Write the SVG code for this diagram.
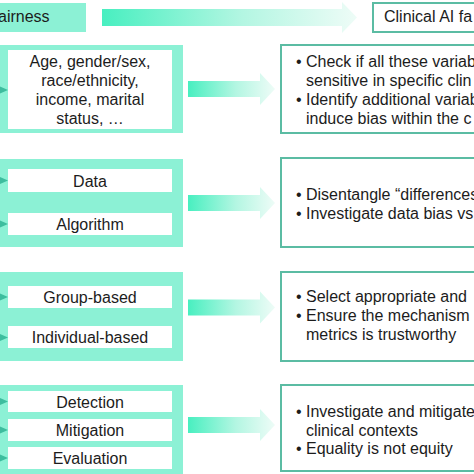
<svg xmlns="http://www.w3.org/2000/svg" width="474" height="474" viewBox="0 0 474 474">
<defs>
<linearGradient id="g" x1="0" y1="0" x2="1" y2="0">
<stop offset="0" stop-color="#48efc0"/>
<stop offset="0.55" stop-color="#b3f6e2"/>
<stop offset="1" stop-color="#eefcf7"/>
</linearGradient>
<style>
.t{font-family:"Liberation Sans",Arial,sans-serif;font-size:16px;fill:#1c1c1c}
.c{text-anchor:middle}
.outer{fill:#8cf1d5}
.inner{fill:#ffffff}
.rb{fill:#ffffff;stroke:#5bbca3;stroke-width:2}
.sa{fill:#3dbd9e}
.ba{fill:url(#g)}
</style>
</defs>
<rect x="0" y="0" width="474" height="474" fill="#ffffff"/>

<g id="header-left">
<rect x="-10" y="3" width="96" height="29" class="outer"/>
<text x="-2" y="22" class="t">airness</text>
</g>
<g id="header-right">
<rect x="373" y="3" width="110" height="29" class="rb"/>
<text x="384" y="22" class="t">Clinical AI fa</text>
</g>

<g id="row1-left">
<rect x="-10" y="45" width="193" height="88" class="outer"/>
<rect x="8" y="50" width="164" height="79" class="inner"/>
<text class="t c"><tspan x="90" y="67">Age, gender/sex,</tspan><tspan x="90" y="86">race/ethnicity,</tspan><tspan x="90" y="105">income, marital</tspan><tspan x="90" y="124">status, …</tspan></text>
</g>
<g id="row1-right">
<rect x="281" y="45" width="200" height="88" class="rb"/>
<text class="t"><tspan x="296" y="67">•</tspan><tspan x="306" y="67">Check if all these variab</tspan><tspan x="306" y="86">sensitive in specific clin</tspan><tspan x="296" y="105">•</tspan><tspan x="306" y="105">Identify additional variab</tspan><tspan x="306" y="124">induce bias within the c</tspan></text>
</g>

<g id="row2-left">
<rect x="-10" y="159" width="193" height="88" class="outer"/>
<rect x="8" y="169" width="164" height="23" class="inner"/>
<rect x="8" y="213" width="164" height="22" class="inner"/>
<text x="90" y="186.5" class="t c">Data</text>
<text x="90" y="229.5" class="t c">Algorithm</text>
</g>
<g id="row2-right">
<rect x="281" y="158" width="200" height="89" class="rb"/>
<text class="t"><tspan x="296" y="200">•</tspan><tspan x="306" y="200">Disentangle “differences</tspan><tspan x="296" y="219">•</tspan><tspan x="306" y="219">Investigate data bias vs</tspan></text>
</g>

<g id="row3-left">
<rect x="-10" y="272" width="193" height="89" class="outer"/>
<rect x="8" y="286" width="164" height="22" class="inner"/>
<rect x="8" y="326" width="164" height="22" class="inner"/>
<text x="90" y="303" class="t c">Group-based</text>
<text x="90" y="343" class="t c">Individual-based</text>
</g>
<g id="row3-right">
<rect x="281" y="272" width="200" height="89" class="rb"/>
<text class="t"><tspan x="296" y="302">•</tspan><tspan x="306" y="302">Select appropriate and</tspan><tspan x="296" y="321">•</tspan><tspan x="306" y="321">Ensure the mechanism</tspan><tspan x="306" y="340">metrics is trustworthy</tspan></text>
</g>

<g id="row4-left">
<rect x="-10" y="385" width="193" height="95" class="outer"/>
<rect x="8" y="391" width="164" height="21" class="inner"/>
<rect x="8" y="419" width="164" height="22" class="inner"/>
<rect x="8" y="447" width="164" height="22" class="inner"/>
<text x="90" y="407.5" class="t c">Detection</text>
<text x="90" y="436" class="t c">Mitigation</text>
<text x="90" y="464" class="t c">Evaluation</text>
</g>
<g id="row4-right">
<rect x="281" y="385" width="200" height="86" class="rb"/>
<text class="t"><tspan x="296" y="417">•</tspan><tspan x="306" y="417">Investigate and mitigate</tspan><tspan x="306" y="435.5">clinical contexts</tspan><tspan x="296" y="454">•</tspan><tspan x="306" y="454">Equality is not equity</tspan></text>
</g>

<g id="connectors">
<path class="ba" d="M102,9 H342 V2 L357,17.5 L342,33 V26 H102 Z"/>
<path class="ba" d="M188,81 H260 V73 L275,89 L260,105 V97 H188 Z"/>
<path class="ba" d="M188,195 H260 V187 L275,203 L260,219 V211 H188 Z"/>
<path class="ba" d="M188,299.5 H260 V291.5 L275,307.5 L260,323.5 V315.5 H188 Z"/>
<path class="ba" d="M188,417 H260 V409 L275,425 L260,441 V433 H188 Z"/>
<polygon class="sa" points="0,86.5 8,90 0,93.5"/>
<polygon class="sa" points="0,177 8,180.5 0,184"/>
<polygon class="sa" points="0,220.5 8,224 0,227.5"/>
<polygon class="sa" points="0,293.5 8,297 0,300.5"/>
<polygon class="sa" points="0,334 8,337.5 0,341"/>
<polygon class="sa" points="0,398 8,401.5 0,405"/>
<polygon class="sa" points="0,426.5 8,430 0,433.5"/>
<polygon class="sa" points="0,454.5 8,458 0,461.5"/>
</g>
</svg>
